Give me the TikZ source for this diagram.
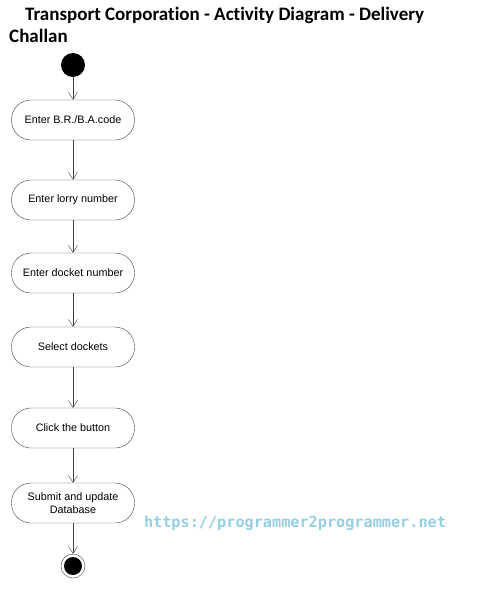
\documentclass[tikz,border=0pt]{standalone}
\usepackage{fontspec}
\setmainfont{Liberation Sans}
\newfontfamily\titlefont[Ligatures=NoCommon]{Carlito}
\newfontfamily\urlfont{DejaVu Sans Mono}
\usetikzlibrary{arrows.meta}
\definecolor{urlblue}{RGB}{150,206,226}

\def\actwidth{123pt}
\def\actheight{40pt}

\begin{document}
\begin{tikzpicture}[x=1pt,y=-1pt,
    activity/.style={draw=black!75, rounded corners=19.5pt, minimum width=\actwidth,
      minimum height=\actheight, align=center, inner sep=2pt,
      font=\fontsize{10.8}{12.5}\selectfont},
    flow/.style={draw=black!75, -{Straight Barb[length=7pt,width=9pt]}}]
    \useasboundingbox (0,0) rectangle (500,592);
    \node[anchor=base west, inner sep=0pt, font=\titlefont\bfseries\fontsize{19}{22}\selectfont]
      (title1) at (25,20) {Transport Corporation - Activity Diagram - Delivery};
    \node[anchor=base west, inner sep=0pt, font=\titlefont\bfseries\fontsize{19}{22}\selectfont]
      (title2) at (9,42) {Challan};
    \node[circle, fill=black, minimum size=24pt, inner sep=0pt] (start) at (73,65) {};
    \foreach \i/\y/\txt in {1/120/{Enter B.R./B.A.code},2/200/{Enter lorry number},
        3/273/{Enter docket number},4/347/{Select dockets},5/428/{Click the button},
        6/503/{Submit and update\\Database}} {
      \node[activity] (act\i) at (73,\y) {\txt};
    }
    \node[circle, draw=black!75, fill=white, minimum size=24pt, inner sep=0pt] (stop) at (73,566) {};
    \node[circle, fill=black, minimum size=18pt, inner sep=0pt] (stopdot) at (stop) {};
    \draw[flow] (start) -- (act1);
    \foreach \i/\j in {1/2,2/3,3/4,4/5,5/6} {
      \draw[flow] (act\i) -- (act\j);
    }
    \draw[flow] (act6) -- (stop);
    \node[text=urlblue, font=\urlfont\bfseries\fontsize{15.2}{18}\selectfont] (url) at (295,523)
      {https://programmer2programmer.net};
\end{tikzpicture}
\end{document}
